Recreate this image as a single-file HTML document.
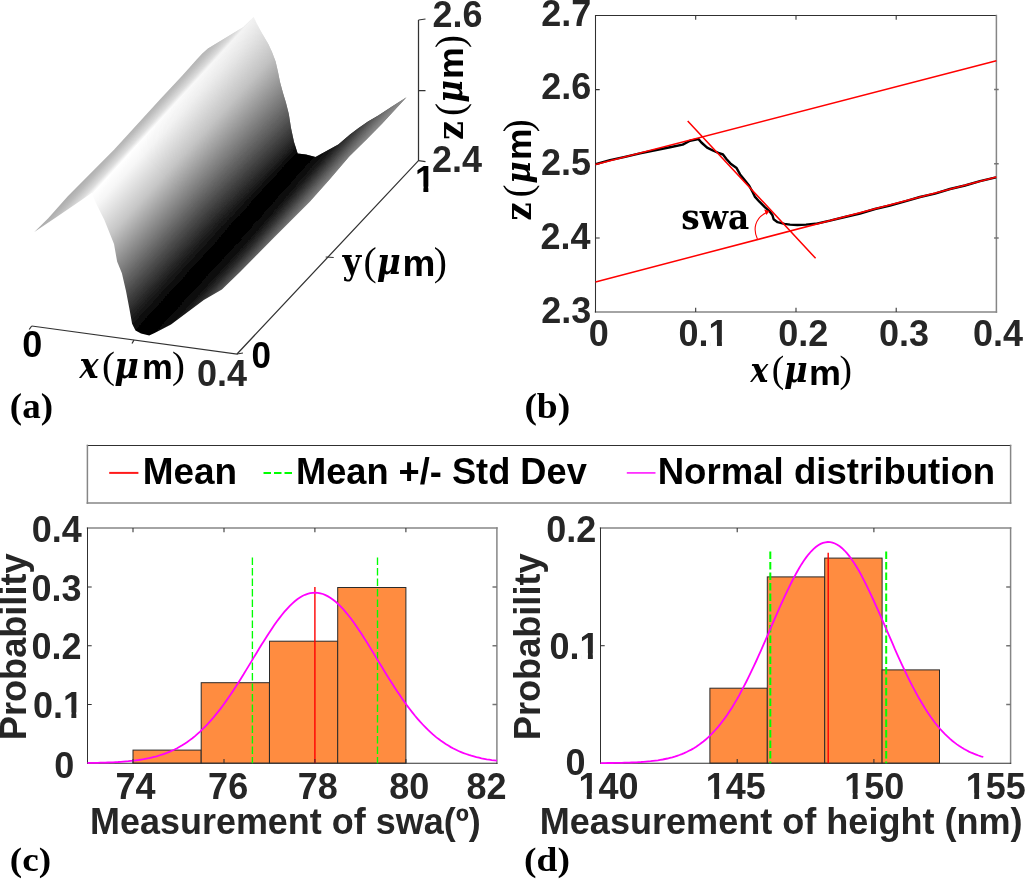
<!DOCTYPE html>
<html lang="en"><head><meta charset="utf-8"><title>Figure</title>
<style>
html,body{margin:0;padding:0;background:#fff;}
svg{display:block;}
.ax{stroke:#4a4a4a;stroke-width:1.1;fill:none;}
.ax3{stroke:#323232;stroke-width:1.25;fill:none;}
</style></head><body>
<svg width="1025" height="879" viewBox="0 0 1025 879">
<rect x="0" y="0" width="1025" height="879" fill="#fff"/>

<g id="panelA">
<defs>
<linearGradient id="gs" gradientUnits="userSpaceOnUse" x1="0" y1="0" x2="738" y2="675">
<stop offset="0.1800" stop-color="#a4a4a4"/>
<stop offset="0.1880" stop-color="#bcbcbc"/>
<stop offset="0.1950" stop-color="#dedede"/>
<stop offset="0.1990" stop-color="#ffffff"/>
<stop offset="0.2100" stop-color="#f6f6f6"/>
<stop offset="0.2400" stop-color="#c6c6c6"/>
<stop offset="0.2700" stop-color="#808080"/>
<stop offset="0.2950" stop-color="#444444"/>
<stop offset="0.3100" stop-color="#202020"/>
<stop offset="0.3200" stop-color="#0a0a0a"/>
<stop offset="0.3270" stop-color="#000000"/>
<stop offset="0.3340" stop-color="#000000"/>
<stop offset="0.3450" stop-color="#0e0e0e"/>
<stop offset="0.3520" stop-color="#2c2c2c"/>
<stop offset="0.3580" stop-color="#505050"/>
<stop offset="0.3630" stop-color="#6c6c6c"/>
<stop offset="0.3680" stop-color="#8a8a8a"/>
</linearGradient>
<linearGradient id="gs2" gradientUnits="userSpaceOnUse" x1="0" y1="0" x2="738" y2="675">
<stop offset="0.1800" stop-color="#a8a8a8"/>
<stop offset="0.1900" stop-color="#c2c2c2"/>
<stop offset="0.1960" stop-color="#dcdcdc"/>
<stop offset="0.1990" stop-color="#f2f2f2"/>
<stop offset="0.2150" stop-color="#e0e0e0"/>
<stop offset="0.2400" stop-color="#c0c0c0"/>
<stop offset="0.2640" stop-color="#929292"/>
<stop offset="0.2900" stop-color="#606060"/>
<stop offset="0.3130" stop-color="#2c2c2c"/>
<stop offset="0.3230" stop-color="#000000"/>
<stop offset="0.3360" stop-color="#040404"/>
<stop offset="0.3450" stop-color="#1c1c1c"/>
<stop offset="0.3520" stop-color="#444444"/>
<stop offset="0.3580" stop-color="#686868"/>
<stop offset="0.3630" stop-color="#828282"/>
<stop offset="0.3680" stop-color="#969696"/>
</linearGradient>
<linearGradient id="gm" gradientUnits="userSpaceOnUse" x1="-13.5" y1="14.8" x2="108" y2="-118">
<stop offset="0" stop-color="#000"/>
<stop offset="1" stop-color="#fff"/>
</linearGradient>
<filter id="bl" x="-5%" y="-5%" width="110%" height="110%"><feGaussianBlur stdDeviation="0.7"/></filter>
<mask id="mk" maskUnits="userSpaceOnUse" x="0" y="0" width="520" height="440"><rect x="0" y="0" width="520" height="440" fill="url(#gm)"/></mask>
</defs>
<g filter="url(#bl)"><polygon fill="url(#gs)" points="34.3,232 48,218.5 67.8,196.2 114,149.8 160,99.5 182,76.1 191,66 197,59.2 202.4,53.6 208,48.6 215,44.2 222.9,39.5 243.4,27.1 253.7,17 257,24 261,31.5 268.3,43.9 272,52 275.6,61.5 278,72 280,82 283,93 285.9,102.4 288.8,114 291,128 294,142 297.7,153.5 306,154.5 315.5,157 338.3,144.6 350,134.5 358.3,128.2 368,121.5 378.3,115.5 392,106.5 406.5,97.3 382,123.7 366,140 349.2,156.4 330,179 310,201.4 300,211.5 290,221.5 275,236.6 258,253.8 240,271.9 221.9,289.5 203.8,299.9 187.4,312.2 171,324.5 154.6,333 149.2,335.4 141,333.6 135.5,330.6 132.1,323.8 129.4,308.7 126,291 121.9,273.2 117.1,261.5 114,244 104.4,220.1 96.4,204.1 91.7,193 75.7,204.1 56.6,216.9"/>
<polygon fill="url(#gs2)" mask="url(#mk)" points="34.3,232 48,218.5 67.8,196.2 114,149.8 160,99.5 182,76.1 191,66 197,59.2 202.4,53.6 208,48.6 215,44.2 222.9,39.5 243.4,27.1 253.7,17 257,24 261,31.5 268.3,43.9 272,52 275.6,61.5 278,72 280,82 283,93 285.9,102.4 288.8,114 291,128 294,142 297.7,153.5 306,154.5 315.5,157 338.3,144.6 350,134.5 358.3,128.2 368,121.5 378.3,115.5 392,106.5 406.5,97.3 382,123.7 366,140 349.2,156.4 330,179 310,201.4 300,211.5 290,221.5 275,236.6 258,253.8 240,271.9 221.9,289.5 203.8,299.9 187.4,312.2 171,324.5 154.6,333 149.2,335.4 141,333.6 135.5,330.6 132.1,323.8 129.4,308.7 126,291 121.9,273.2 117.1,261.5 114,244 104.4,220.1 96.4,204.1 91.7,193 75.7,204.1 56.6,216.9"/></g>
<path class="ax3" d="M31.7 326 L237 354 L418.5 160.6 L418.5 20"/>
<path class="ax3" d="M31.7 326 l-2.5 3.5 M134 340 l-2 3.5 M237 354 l6 -1 M325.7 257 l8 0.5 M418.5 160.6 l7 1 M418.5 90.7 l7 0 M418.5 20 l7 -1"/>
<text transform="translate(22.15,356.97) scale(1.0000,1.04)" font-size="36" font-family="'Liberation Sans', sans-serif" font-weight="bold" font-style="normal" fill="#000" >0</text>
<text transform="translate(197.01,386.22) scale(1.0000,1.04)" font-size="36" font-family="'Liberation Sans', sans-serif" font-weight="bold" font-style="normal" fill="#262626" >0.4</text>
<text transform="translate(251.62,367.76) scale(1.0000,1.04)" font-size="35" font-family="'Liberation Sans', sans-serif" font-weight="bold" font-style="normal" fill="#000" >0</text>
<text transform="translate(415,192.3) scale(1,1.04)" font-size="36" font-family="'Liberation Sans', sans-serif" font-weight="bold" fill="#000">1</text><rect x="416.62" y="186.48" width="6.78" height="6.82" fill="#fff"/><rect x="428.34" y="186.48" width="6.28" height="6.82" fill="#fff"/>
<text transform="translate(432.46,26.92) scale(1.0000,1.04)" font-size="36" font-family="'Liberation Sans', sans-serif" font-weight="bold" font-style="normal" fill="#262626" >2.6</text>
<text transform="translate(432.04,171.8) scale(1.0000,1.04)" font-size="36" font-family="'Liberation Sans', sans-serif" font-weight="bold" font-style="normal" fill="#262626" >2.4</text>
<text fill="#000"><tspan x="79.59" y="377.74" font-size="35.53" font-family="'DejaVu Serif Condensed', 'DejaVu Serif', 'Liberation Serif', serif" font-weight="bold" font-style="italic">x</tspan><tspan x="101.89" y="377.88" font-size="38.87" font-family="'Liberation Serif', serif" font-weight="normal" font-style="normal">(</tspan><tspan x="114.28" y="377.62" font-size="37.44" font-family="'DejaVu Serif Condensed', 'DejaVu Serif', 'Liberation Serif', serif" font-weight="bold" font-style="italic">μ</tspan><tspan x="141.94" y="378.52" font-size="34.69" font-family="'Liberation Sans', sans-serif" font-weight="bold" font-style="normal">m</tspan><tspan x="171.88" y="377.88" font-size="38.87" font-family="'Liberation Serif', serif" font-weight="normal" font-style="normal">)</tspan></text>
<text fill="#000"><tspan x="342.4" y="274.4" font-size="35.68" font-family="'DejaVu Serif Condensed', 'DejaVu Serif', 'Liberation Serif', serif" font-weight="bold" font-style="normal">y</tspan><tspan x="363.53" y="274.64" font-size="39.55" font-family="'Liberation Serif', serif" font-weight="normal" font-style="normal">(</tspan><tspan x="376.86" y="274.07" font-size="36.43" font-family="'DejaVu Serif Condensed', 'DejaVu Serif', 'Liberation Serif', serif" font-weight="bold" font-style="italic">μ</tspan><tspan x="402.47" y="276.38" font-size="36.96" font-family="'Liberation Sans', sans-serif" font-weight="bold" font-style="normal">m</tspan><tspan x="433.67" y="274.64" font-size="39.55" font-family="'Liberation Serif', serif" font-weight="normal" font-style="normal">)</tspan></text>
<text fill="#000" transform="rotate(-90)"><tspan x="-139.95" y="462.64" font-size="36.68" font-family="'DejaVu Serif Condensed', 'DejaVu Serif', 'Liberation Serif', serif" font-weight="bold" font-style="normal">z</tspan><tspan x="-115.88" y="462.96" font-size="38.99" font-family="'Liberation Serif', serif" font-weight="normal" font-style="normal">(</tspan><tspan x="-102.71" y="461.82" font-size="34.48" font-family="'DejaVu Serif Condensed', 'DejaVu Serif', 'Liberation Serif', serif" font-weight="bold" font-style="italic">μ</tspan><tspan x="-78.93" y="462.75" font-size="35.74" font-family="'Liberation Sans', sans-serif" font-weight="bold" font-style="normal">m</tspan><tspan x="-47.99" y="462.96" font-size="38.99" font-family="'Liberation Serif', serif" font-weight="normal" font-style="normal">)</tspan></text>
<text transform="translate(9.82,418.18) scale(1.0482,1.0)" font-size="35.33" font-family="'Liberation Serif', serif" font-weight="bold" font-style="normal" fill="#000" >(a)</text>
</g>
<g id="panelB">
<path d="M595.5 15.5 L996.4 15.5" stroke="#303030" stroke-width="1.05" stroke-linecap="square" fill="none"/><path d="M996.4 15.5 L996.4 312.0" stroke="#868686" stroke-width="1.5" stroke-linecap="square" fill="none"/><path d="M595.5 312.0 L996.4 312.0" stroke="#868686" stroke-width="1.5" stroke-linecap="square" fill="none"/><path d="M595.5 15.5 L595.5 312.0" stroke="#303030" stroke-width="1.05" stroke-linecap="square" fill="none"/>
<path d="M595.5 237.9 h4.2 M595.5 163.8 h4.2 M595.5 89.6 h4.2" stroke="#303030" stroke-width="1.05" fill="none"/>
<path d="M695.7 15.5 v4.2 M796.0 15.5 v4.2 M896.2 15.5 v4.2" stroke="#303030" stroke-width="1.05" fill="none"/>
<path d="M994.1 237.9 h4.6 M994.1 163.8 h4.6 M994.1 89.6 h4.6" stroke="#747474" stroke-width="1.5" fill="none"/>
<path d="M695.7 312.0 v-4.2 M796.0 312.0 v-4.2 M896.2 312.0 v-4.2" stroke="#303030" stroke-width="1.05" fill="none"/>
<text transform="translate(588.8,345.52) scale(1.0000,1.04)" font-size="36" font-family="'Liberation Sans', sans-serif" font-weight="bold" font-style="normal" fill="#262626" >0</text>
<text transform="translate(678.55,345.52) scale(1.0000,1.04)" font-size="36" font-family="'Liberation Sans', sans-serif" font-weight="bold" font-style="normal" fill="#262626" >0.1</text><rect x="710.19" y="339.7" width="6.78" height="6.82" fill="#fff"/><rect x="721.91" y="339.7" width="6.28" height="6.82" fill="#fff"/>
<text transform="translate(778.28,345.52) scale(1.0000,1.04)" font-size="36" font-family="'Liberation Sans', sans-serif" font-weight="bold" font-style="normal" fill="#262626" >0.2</text>
<text transform="translate(879.03,345.52) scale(1.0000,1.04)" font-size="36" font-family="'Liberation Sans', sans-serif" font-weight="bold" font-style="normal" fill="#262626" >0.3</text>
<text transform="translate(972.96,345.52) scale(1.0000,1.04)" font-size="36" font-family="'Liberation Sans', sans-serif" font-weight="bold" font-style="normal" fill="#262626" >0.4</text>
<text transform="translate(541.26,25.65) scale(1.0000,1.04)" font-size="36" font-family="'Liberation Sans', sans-serif" font-weight="bold" font-style="normal" fill="#262626" >2.7</text>
<text transform="translate(541.26,99.47) scale(1.0000,1.04)" font-size="36" font-family="'Liberation Sans', sans-serif" font-weight="bold" font-style="normal" fill="#262626" >2.6</text>
<text transform="translate(541.08,174.77) scale(1.0000,1.04)" font-size="36" font-family="'Liberation Sans', sans-serif" font-weight="bold" font-style="normal" fill="#262626" >2.5</text>
<text transform="translate(540.54,248.75) scale(1.0000,1.04)" font-size="36" font-family="'Liberation Sans', sans-serif" font-weight="bold" font-style="normal" fill="#262626" >2.4</text>
<text transform="translate(541.26,322.97) scale(1.0000,1.04)" font-size="36" font-family="'Liberation Sans', sans-serif" font-weight="bold" font-style="normal" fill="#262626" >2.3</text>
<polyline fill="none" stroke="#000" stroke-width="2.4" stroke-linejoin="round" stroke-linecap="butt" points="595.7,164.2 610,160.2 625,156.8 640,153.4 655,150.3 670,147.3 682.7,144.6 690,140.8 698.5,139.1 701.4,142.5 707.1,147.6 712.8,150.5 718.4,152.8 723,154.5 726.4,159 731,164.1 736.6,168.1 740.1,174.4 744.6,180.1 749.2,185.7 752.6,192 754.8,196.6 759.4,201.7 765.1,207.4 769.6,211.3 772.5,215.3 773.6,219.3 777.6,222.2 784.4,223.9 790,224.6 797.4,225 806,224.6 815.6,223.8 830,220.7 845,217 860,213.5 875,209 890,205.5 905,201.3 920,197 935,193.6 950,189 965,185.5 980,181.2 996,177.3"/>
<path fill="none" stroke="#f00" stroke-width="1.5" d="M595.5 164.6 L996.4 60.8 M595.5 282 L996.4 177 M687.7 120.9 L815.6 258.3"/>
<path fill="none" stroke="#f00" stroke-width="1.1" d="M757.4 238.9 C753 229.5 754.5 218.5 766.5 212.4"/><path fill="#f00" d="M769.6 210.9 L764.2 209.6 L766.4 214.9 Z"/>
<text transform="translate(681.24,229.25) scale(1.0358,1.0)" font-size="35.19" font-family="'DejaVu Serif Condensed', 'DejaVu Serif', 'Liberation Serif', serif" font-weight="bold" font-style="normal" fill="#000" >swa</text>
<text fill="#000"><tspan x="750.38" y="382.16" font-size="33.1" font-family="'DejaVu Serif Condensed', 'DejaVu Serif', 'Liberation Serif', serif" font-weight="bold" font-style="italic">x</tspan><tspan x="771.84" y="382.48" font-size="37.4" font-family="'Liberation Serif', serif" font-weight="normal" font-style="normal">(</tspan><tspan x="783.92" y="382.44" font-size="35.93" font-family="'DejaVu Serif Condensed', 'DejaVu Serif', 'Liberation Serif', serif" font-weight="bold" font-style="italic">μ</tspan><tspan x="808.98" y="384.5" font-size="35.94" font-family="'Liberation Sans', sans-serif" font-weight="bold" font-style="normal">m</tspan><tspan x="839.42" y="382.48" font-size="37.4" font-family="'Liberation Serif', serif" font-weight="normal" font-style="normal">)</tspan></text>
<text fill="#000" transform="rotate(-90)"><tspan x="-220.52" y="530.6" font-size="35.19" font-family="'DejaVu Serif Condensed', 'DejaVu Serif', 'Liberation Serif', serif" font-weight="bold" font-style="normal">z</tspan><tspan x="-197.48" y="530.96" font-size="38.99" font-family="'Liberation Serif', serif" font-weight="normal" font-style="normal">(</tspan><tspan x="-183.76" y="530" font-size="34.02" font-family="'DejaVu Serif Condensed', 'DejaVu Serif', 'Liberation Serif', serif" font-weight="bold" font-style="italic">μ</tspan><tspan x="-160.1" y="530.99" font-size="35.33" font-family="'Liberation Sans', sans-serif" font-weight="bold" font-style="normal">m</tspan><tspan x="-132.34" y="530.96" font-size="38.99" font-family="'Liberation Serif', serif" font-weight="normal" font-style="normal">)</tspan></text>
<text transform="translate(524.4,417.74) scale(1.0404,1.0)" font-size="36" font-family="'Liberation Serif', serif" font-weight="bold" font-style="normal" fill="#000" >(b)</text>
</g>
<g id="legend">
<path d="M87.4 445.4 L1010.6 445.4" stroke="#303030" stroke-width="1.05" stroke-linecap="square" fill="none"/><path d="M1010.6 445.4 L1010.6 503.1" stroke="#868686" stroke-width="1.5" stroke-linecap="square" fill="none"/><path d="M87.4 503.1 L1010.6 503.1" stroke="#868686" stroke-width="1.5" stroke-linecap="square" fill="none"/><path d="M87.4 445.4 L87.4 503.1" stroke="#868686" stroke-width="1.5" stroke-linecap="square" fill="none"/>
<path d="M109.2 472.9 H138.4" stroke="#ff1a1a" stroke-width="2"/>
<path d="M263.5 472.9 H292.3" stroke="#0f0" stroke-width="2" stroke-dasharray="7.5 3"/>
<path d="M626.8 472.9 H655.5" stroke="#ff30ff" stroke-width="1.8"/>
<text transform="translate(142.72,483.8) scale(1.0250,1.04)" font-size="36" font-family="'Liberation Sans', sans-serif" font-weight="bold" font-style="normal" fill="#000" >Mean</text>
<text transform="translate(295.96,483.8) scale(1.0066,1.04)" font-size="36" font-family="'Liberation Sans', sans-serif" font-weight="bold" font-style="normal" fill="#000" >Mean +/- Std Dev</text>
<text transform="translate(657.64,483.8) scale(1.0170,1.04)" font-size="36" font-family="'Liberation Sans', sans-serif" font-weight="bold" font-style="normal" fill="#000" >Normal distribution</text>
</g>
<g id="panelC">
<rect x="133.0" y="750.1" width="68.2" height="13.1" fill="#ff8c40" stroke="#2a2a2a" stroke-width="1"/>
<rect x="201.2" y="682.7" width="68.2" height="80.5" fill="#ff8c40" stroke="#2a2a2a" stroke-width="1"/>
<rect x="269.5" y="641.2" width="68.2" height="122.0" fill="#ff8c40" stroke="#2a2a2a" stroke-width="1"/>
<rect x="337.7" y="587.5" width="68.2" height="175.7" fill="#ff8c40" stroke="#2a2a2a" stroke-width="1"/>
<path d="M87.5 528.1 L496.9 528.1" stroke="#868686" stroke-width="1.5" stroke-linecap="square" fill="none"/><path d="M496.9 528.1 L496.9 763.2" stroke="#868686" stroke-width="1.5" stroke-linecap="square" fill="none"/><path d="M87.5 763.2 L496.9 763.2" stroke="#303030" stroke-width="1.05" stroke-linecap="square" fill="none"/><path d="M87.5 528.1 L87.5 763.2" stroke="#303030" stroke-width="1.05" stroke-linecap="square" fill="none"/>
<path d="M314.9 763.2 V586.9" stroke="#f00" stroke-width="1.4"/>
<path d="M252.4 557.5 V763.2 M377.5 557.5 V763.2" stroke="#0f0" stroke-width="1.35" stroke-dasharray="7.5 3"/>
<polyline fill="none" stroke="#f0f" stroke-width="1.8" points="87.5,763.0 90.1,762.9 92.6,762.9 95.2,762.8 97.7,762.8 100.3,762.7 102.9,762.7 105.4,762.6 108.0,762.5 110.5,762.4 113.1,762.3 115.6,762.1 118.2,762.0 120.8,761.8 123.3,761.6 125.9,761.4 128.4,761.2 131.0,760.9 133.6,760.7 136.1,760.3 138.7,760.0 141.2,759.6 143.8,759.2 146.4,758.7 148.9,758.2 151.5,757.6 154.0,757.0 156.6,756.3 159.1,755.5 161.7,754.7 164.3,753.8 166.8,752.9 169.4,751.8 171.9,750.7 174.5,749.5 177.1,748.2 179.6,746.8 182.2,745.3 184.7,743.7 187.3,742.0 189.8,740.1 192.4,738.2 195.0,736.1 197.5,733.9 200.1,731.6 202.6,729.2 205.2,726.6 207.8,723.9 210.3,721.1 212.9,718.2 215.4,715.1 218.0,711.9 220.6,708.6 223.1,705.2 225.7,701.6 228.2,698.0 230.8,694.2 233.3,690.4 235.9,686.5 238.5,682.4 241.0,678.4 243.6,674.3 246.1,670.1 248.7,665.9 251.3,661.6 253.8,657.4 256.4,653.2 258.9,649.0 261.5,644.8 264.1,640.7 266.6,636.7 269.2,632.7 271.7,628.9 274.3,625.1 276.8,621.5 279.4,618.1 282.0,614.8 284.5,611.7 287.1,608.8 289.6,606.1 292.2,603.6 294.8,601.3 297.3,599.3 299.9,597.5 302.4,596.0 305.0,594.8 307.6,593.9 310.1,593.2 312.7,592.8 315.2,592.7 317.8,592.8 320.3,593.3 322.9,594.0 325.5,595.1 328.0,596.4 330.6,597.9 333.1,599.7 335.7,601.8 338.3,604.1 340.8,606.7 343.4,609.4 345.9,612.4 348.5,615.5 351.1,618.8 353.6,622.3 356.2,626.0 358.7,629.7 361.3,633.6 363.8,637.6 366.4,641.6 369.0,645.8 371.5,649.9 374.1,654.1 376.6,658.4 379.2,662.6 381.8,666.8 384.3,671.0 386.9,675.2 389.4,679.3 392.0,683.3 394.5,687.3 397.1,691.2 399.7,695.1 402.2,698.8 404.8,702.4 407.3,705.9 409.9,709.3 412.5,712.6 415.0,715.8 417.6,718.8 420.1,721.7 422.7,724.5 425.3,727.2 427.8,729.7 430.4,732.1 432.9,734.4 435.5,736.6 438.0,738.6 440.6,740.5 443.2,742.3 445.7,744.0 448.3,745.6 450.8,747.1 453.4,748.5 456.0,749.8 458.5,751.0 461.1,752.1 463.6,753.1 466.2,754.0 468.8,754.9 471.3,755.7 473.9,756.4 476.4,757.1 479.0,757.7 481.5,758.3 484.1,758.8 486.7,759.3 489.2,759.7 491.8,760.1 494.3,760.4 496.9,760.7"/>
<path d="M87.5 704.4 h4.2 M87.5 645.7 h4.2 M87.5 586.9 h4.2" stroke="#303030" stroke-width="1.05" fill="none"/>
<path d="M133.0 763.2 v-4.2 M224.0 763.2 v-4.2 M314.9 763.2 v-4.2 M405.9 763.2 v-4.2" stroke="#303030" stroke-width="1.05" fill="none"/>
<path d="M496.9 704.4 h-4.4 M496.9 645.7 h-4.4 M496.9 586.9 h-4.4" stroke="#747474" stroke-width="1.5" fill="none"/>
<path d="M133.0 528.1 v4.2 M224.0 528.1 v4.2 M314.9 528.1 v4.2 M405.9 528.1 v4.2" stroke="#303030" stroke-width="1.05" fill="none"/>
<text transform="translate(115.6,798.82) scale(1.0000,1.04)" font-size="36" font-family="'Liberation Sans', sans-serif" font-weight="bold" font-style="normal" fill="#262626" >74</text>
<text transform="translate(208.12,798.82) scale(1.0000,1.04)" font-size="36" font-family="'Liberation Sans', sans-serif" font-weight="bold" font-style="normal" fill="#262626" >76</text>
<text transform="translate(297.84,798.82) scale(1.0000,1.04)" font-size="36" font-family="'Liberation Sans', sans-serif" font-weight="bold" font-style="normal" fill="#262626" >78</text>
<text transform="translate(389.2,798.82) scale(1.0000,1.04)" font-size="36" font-family="'Liberation Sans', sans-serif" font-weight="bold" font-style="normal" fill="#262626" >80</text>
<text transform="translate(466.5,798.82) scale(1.0000,1.04)" font-size="36" font-family="'Liberation Sans', sans-serif" font-weight="bold" font-style="normal" fill="#262626" >82</text>
<text transform="translate(31.66,542.22) scale(1.0000,1.04)" font-size="36" font-family="'Liberation Sans', sans-serif" font-weight="bold" font-style="normal" fill="#262626" >0.4</text>
<text transform="translate(31.48,600.62) scale(1.0000,1.04)" font-size="36" font-family="'Liberation Sans', sans-serif" font-weight="bold" font-style="normal" fill="#262626" >0.3</text>
<text transform="translate(31.48,659.22) scale(1.0000,1.04)" font-size="36" font-family="'Liberation Sans', sans-serif" font-weight="bold" font-style="normal" fill="#262626" >0.2</text>
<text transform="translate(32.95,718.12) scale(1.0000,1.04)" font-size="36" font-family="'Liberation Sans', sans-serif" font-weight="bold" font-style="normal" fill="#262626" >0.1</text><rect x="64.59" y="712.3" width="6.78" height="6.82" fill="#fff"/><rect x="76.31" y="712.3" width="6.28" height="6.82" fill="#fff"/>
<text transform="translate(54.3,777.72) scale(1.0000,1.04)" font-size="36" font-family="'Liberation Sans', sans-serif" font-weight="bold" font-style="normal" fill="#262626" >0</text>
<text transform="translate(25.9,740.23) rotate(-90) scale(1.0047,1.04)" font-size="36" font-family="'Liberation Sans', sans-serif" font-weight="bold" font-style="normal" fill="#262626" >Probability</text>
<text transform="translate(89.98,834) scale(0.9992,1.04)" font-size="36" font-family="'Liberation Sans', sans-serif" font-weight="bold" font-style="normal" fill="#262626" >Measurement of swa(º)</text>
<text transform="translate(9.81,870.81) scale(1.0866,1.0)" font-size="34.22" font-family="'Liberation Serif', serif" font-weight="bold" font-style="normal" fill="#000" >(c)</text>
</g>
<g id="panelD">
<rect x="709.9" y="688.2" width="57.4" height="75.0" fill="#ff8c40" stroke="#2a2a2a" stroke-width="1"/>
<rect x="767.3" y="576.9" width="57.4" height="186.3" fill="#ff8c40" stroke="#2a2a2a" stroke-width="1"/>
<rect x="824.7" y="558.1" width="57.4" height="205.1" fill="#ff8c40" stroke="#2a2a2a" stroke-width="1"/>
<rect x="882.1" y="669.9" width="57.4" height="93.3" fill="#ff8c40" stroke="#2a2a2a" stroke-width="1"/>
<path d="M600.5 528.1 L1010.6 528.1" stroke="#868686" stroke-width="1.5" stroke-linecap="square" fill="none"/><path d="M1010.6 528.1 L1010.6 763.2" stroke="#868686" stroke-width="1.5" stroke-linecap="square" fill="none"/><path d="M600.5 763.2 L1010.6 763.2" stroke="#303030" stroke-width="1.05" stroke-linecap="square" fill="none"/><path d="M600.5 528.1 L600.5 763.2" stroke="#303030" stroke-width="1.05" stroke-linecap="square" fill="none"/>
<path d="M828.2 763.2 V552.8" stroke="#f00" stroke-width="1.4"/>
<path d="M770.3 551.6 V763.2 M886.2 551.6 V763.2" stroke="#0f0" stroke-width="2.0" stroke-dasharray="7.5 3"/>
<polyline fill="none" stroke="#f0f" stroke-width="1.8" points="600.5,763.1 602.9,763.1 605.3,763.1 607.7,763.0 610.1,763.0 612.5,763.0 614.9,762.9 617.2,762.9 619.6,762.9 622.0,762.8 624.4,762.7 626.8,762.7 629.2,762.6 631.6,762.5 634.0,762.4 636.4,762.3 638.8,762.1 641.2,762.0 643.6,761.8 646.0,761.6 648.3,761.4 650.7,761.2 653.1,760.9 655.5,760.6 657.9,760.3 660.3,759.9 662.7,759.5 665.1,759.0 667.5,758.5 669.9,757.9 672.3,757.3 674.7,756.6 677.1,755.8 679.4,755.0 681.8,754.1 684.2,753.1 686.6,752.0 689.0,750.8 691.4,749.6 693.8,748.2 696.2,746.7 698.6,745.1 701.0,743.3 703.4,741.5 705.8,739.5 708.2,737.3 710.5,735.1 712.9,732.6 715.3,730.0 717.7,727.3 720.1,724.4 722.5,721.3 724.9,718.1 727.3,714.7 729.7,711.1 732.1,707.4 734.5,703.4 736.9,699.4 739.3,695.1 741.6,690.7 744.0,686.2 746.4,681.5 748.8,676.7 751.2,671.7 753.6,666.7 756.0,661.5 758.4,656.2 760.8,650.8 763.2,645.4 765.6,639.9 768.0,634.4 770.3,628.9 772.7,623.3 775.1,617.8 777.5,612.4 779.9,606.9 782.3,601.6 784.7,596.4 787.1,591.3 789.5,586.3 791.9,581.5 794.3,576.9 796.7,572.5 799.1,568.3 801.4,564.4 803.8,560.8 806.2,557.4 808.6,554.3 811.0,551.5 813.4,549.1 815.8,547.0 818.2,545.3 820.6,543.9 823.0,542.9 825.4,542.3 827.8,542.0 830.2,542.1 832.5,542.6 834.9,543.5 837.3,544.7 839.7,546.3 842.1,548.2 844.5,550.5 846.9,553.2 849.3,556.1 851.7,559.4 854.1,562.9 856.5,566.7 858.9,570.8 861.3,575.1 863.6,579.6 866.0,584.4 868.4,589.3 870.8,594.3 873.2,599.5 875.6,604.8 878.0,610.2 880.4,615.6 882.8,621.1 885.2,626.7 887.6,632.2 890.0,637.7 892.4,643.2 894.7,648.7 897.1,654.1 899.5,659.4 901.9,664.6 904.3,669.7 906.7,674.7 909.1,679.6 911.5,684.3 913.9,688.9 916.3,693.4 918.7,697.7 921.1,701.8 923.5,705.8 925.8,709.6 928.2,713.3 930.6,716.7 933.0,720.0 935.4,723.2 937.8,726.1 940.2,729.0 942.6,731.6 945.0,734.1 947.4,736.4 949.8,738.6 952.2,740.7 954.6,742.6 956.9,744.4 959.3,746.1 961.7,747.6 964.1,749.0 966.5,750.3 968.9,751.6 971.3,752.7 973.7,753.7 976.1,754.6 978.5,755.5 980.9,756.3 983.3,757.0"/>
<path d="M600.5 645.7 h4.2" stroke="#303030" stroke-width="1.05" fill="none"/>
<path d="M737.2 763.2 v-4.2 M873.9 763.2 v-4.2" stroke="#303030" stroke-width="1.05" fill="none"/>
<path d="M1010.6 704.4 h-4.4 M1010.6 645.7 h-4.4 M1010.6 586.9 h-4.4" stroke="#747474" stroke-width="1.5" fill="none"/>
<path d="M737.2 528.1 v4.2 M873.9 528.1 v4.2" stroke="#303030" stroke-width="1.05" fill="none"/>
<text transform="translate(578.38,798.82) scale(1.0000,1.04)" font-size="36" font-family="'Liberation Sans', sans-serif" font-weight="bold" font-style="normal" fill="#262626" >140</text><rect x="580" y="793" width="6.78" height="6.82" fill="#fff"/><rect x="591.72" y="793" width="6.28" height="6.82" fill="#fff"/>
<text transform="translate(705.8,798.63) scale(1.0000,1.04)" font-size="36" font-family="'Liberation Sans', sans-serif" font-weight="bold" font-style="normal" fill="#262626" >145</text><rect x="707.42" y="792.81" width="6.78" height="6.82" fill="#fff"/><rect x="719.14" y="792.81" width="6.28" height="6.82" fill="#fff"/>
<text transform="translate(844.28,798.82) scale(1.0000,1.04)" font-size="36" font-family="'Liberation Sans', sans-serif" font-weight="bold" font-style="normal" fill="#262626" >150</text><rect x="845.9" y="793" width="6.78" height="6.82" fill="#fff"/><rect x="857.62" y="793" width="6.28" height="6.82" fill="#fff"/>
<text transform="translate(965.8,798.63) scale(1.0000,1.04)" font-size="36" font-family="'Liberation Sans', sans-serif" font-weight="bold" font-style="normal" fill="#262626" >155</text><rect x="967.42" y="792.81" width="6.78" height="6.82" fill="#fff"/><rect x="979.14" y="792.81" width="6.28" height="6.82" fill="#fff"/>
<text transform="translate(546.13,542.22) scale(1.0000,1.04)" font-size="36" font-family="'Liberation Sans', sans-serif" font-weight="bold" font-style="normal" fill="#262626" >0.2</text>
<text transform="translate(549.5,658.92) scale(1.0000,1.04)" font-size="36" font-family="'Liberation Sans', sans-serif" font-weight="bold" font-style="normal" fill="#262626" >0.1</text><rect x="581.14" y="653.1" width="6.78" height="6.82" fill="#fff"/><rect x="592.86" y="653.1" width="6.28" height="6.82" fill="#fff"/>
<text transform="translate(565.4,774.52) scale(1.0000,1.04)" font-size="36" font-family="'Liberation Sans', sans-serif" font-weight="bold" font-style="normal" fill="#262626" >0</text>
<text transform="translate(540,740.23) rotate(-90) scale(1.0047,1.04)" font-size="36" font-family="'Liberation Sans', sans-serif" font-weight="bold" font-style="normal" fill="#262626" >Probability</text>
<text transform="translate(539.77,834) scale(1.0021,1.04)" font-size="36" font-family="'Liberation Sans', sans-serif" font-weight="bold" font-style="normal" fill="#262626" >Measurement of height (nm)</text>
<text transform="translate(524.1,871.21) scale(1.0971,1.0)" font-size="34.22" font-family="'Liberation Serif', serif" font-weight="bold" font-style="normal" fill="#000" >(d)</text>
</g>
</svg></body></html>
